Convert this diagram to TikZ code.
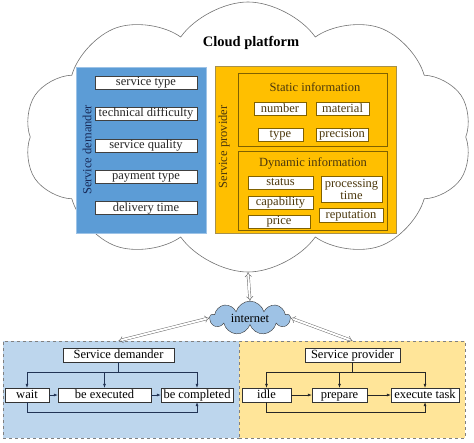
\documentclass[tikz,border=0pt]{standalone}
\usepackage{fontspec}
\setmainfont{Liberation Serif}
\usetikzlibrary{shapes, arrows}
\usetikzlibrary{arrows.meta,calc}
\usetikzlibrary{positioning}
\usetikzlibrary{shapes.symbols}

\begin{document}
\begin{tikzpicture}[x=1pt,y=-1pt,font=\fontsize{12.5}{13}\selectfont,
		    item/.style={draw=black!75,fill=white,inner sep=0pt,minimum height=13pt,text height=8.6pt,text depth=2.6pt,text=black!85},
		    gitem/.style={draw=goldline,fill=white,inner sep=0pt,minimum height=13pt,text height=8.6pt,text depth=2.6pt,text=goldtext},
		    state/.style={draw=black!80,fill=white,inner sep=0pt,minimum height=14pt,text height=8.6pt,text depth=2.6pt},
		    dbl/.style={draw=black!60,line width=0.45pt,double=white,double distance=2pt,{Implies}-{Implies}},
		    flow/.style={draw=navyline,line width=0.6pt,-{Latex[scale=0.7]}}]
		    \definecolor{demblue}{rgb}{0.36,0.61,0.84}
		    \definecolor{provgold}{rgb}{1.00,0.75,0.00}
		    \definecolor{goldline}{rgb}{0.50,0.38,0.00}
		    \definecolor{goldtext}{rgb}{0.30,0.22,0.05}
		    \definecolor{navytext}{rgb}{0.10,0.17,0.35}
		    \definecolor{navyline}{rgb}{0.13,0.20,0.33}
		    \definecolor{paleblue}{rgb}{0.74,0.84,0.93}
		    \definecolor{palegold}{rgb}{1.00,0.90,0.60}
		    \definecolor{netblue}{rgb}{0.62,0.76,0.90}
		    \useasboundingbox (0,0) rectangle (474,442);

		    % cloud platform
		    \node(platform) [cloud,cloud puffs=10,cloud puff arc=110,aspect=1.65,draw=black!55,line width=0.6pt,minimum width=448pt,minimum height=270pt,inner sep=0pt] at (248,137) {};
		    \node(title) [font=\fontsize{14.5}{15}\selectfont\bfseries] at (251,43) {Cloud platform};

		    \node(demand) [draw=demblue!60!white,fill=demblue,minimum width=130pt,minimum height=166pt] at (141,150) {};
		    \node[rotate=90,text=navytext] at (87,150) {Service demander};
		    \node(stype) [item,minimum width=102pt] at (146,82.5) {service type};
		    \node(tech) [item,minimum width=102pt,below=18pt of stype] {technical difficulty};
		    \node(quality) [item,minimum width=102pt,below=18pt of tech] {service quality};
		    \node(payment) [item,minimum width=102pt,below=18pt of quality] {payment type};
		    \node(delivery) [item,minimum width=102pt,below=18pt of payment] {delivery time};

		    \node(provide) [draw=goldline!70,fill=provgold,minimum width=181pt,minimum height=167pt] at (305.5,149.5) {};
		    \node[rotate=90,text=goldtext] at (224,147) {Service provider};
		    \node(static) [draw=goldline,fill=provgold,minimum width=149pt,minimum height=73pt] at (312.5,109.5) {};
		    \node[text=goldtext] at (315,87) {Static information};
		    \node(number) [gitem,minimum width=52pt] at (280,109) {number};
		    \node(material) [gitem,minimum width=53pt] at (342.5,109) {material};
		    \node(type) [gitem,minimum width=45pt] at (280.5,134.5) {type};
		    \node(precision) [gitem,minimum width=52pt] at (342,134.5) {precision};
		    \node(dynamic) [draw=goldline,fill=provgold,minimum width=149pt,minimum height=79pt] at (312.5,190.5) {};
		    \node[text=goldtext] at (313,163) {Dynamic information};
		    \node(status) [gitem,minimum width=65pt] at (280.5,182.5) {status};
		    \node(capability) [gitem,minimum width=65pt] at (280.5,202.5) {capability};
		    \node(price) [gitem,minimum width=62pt] at (279,221.5) {price};
		    \node(ptime) [gitem,minimum width=61pt,minimum height=26pt,text height=,text depth=,align=center,font=\fontsize{12.5}{12}\selectfont] at (351.5,189) {processing\\time};
		    \node(reputation) [gitem,minimum width=64pt,minimum height=14pt] at (351,215) {reputation};

		    % internet
		    \node(internet) [cloud,cloud puffs=9,aspect=2.6,draw=black!80,fill=netblue,minimum width=80pt,minimum height=29pt,inner sep=0pt] at (250,318) {internet};

		    % bottom panels
		    \node(dembox) [draw=black!50,dashed,fill=paleblue,minimum width=236pt,minimum height=97pt] at (121,389.5) {};
		    \node(provbox) [draw=black!50,dashed,fill=palegold,minimum width=226pt,minimum height=97pt] at (352,389.5) {};

		    \node(sdem) [state,minimum width=111pt] at (118.5,355) {Service demander};
		    \node(wait) [state,minimum width=44pt] at (27,395) {wait};
		    \node(exec) [state,minimum width=93pt] at (104.5,395) {be executed};
		    \node(comp) [state,minimum width=72pt] at (197,395) {be completed};

		    \node(sprov) [state,minimum width=95pt] at (352.5,355) {Service provider};
		    \node(idle) [state,minimum width=49pt] at (266.5,395) {idle};
		    \node(prep) [state,minimum width=55pt] at (339.5,395) {prepare};
		    \node(task) [state,minimum width=68pt] at (425,395) {execute task};

		    \draw[dbl] (platform.south) -- (internet.north);
		    \draw[dbl] (internet.west) -- (dembox.north -| sdem);
		    \draw[dbl] (internet.east) -- (provbox.north -| sprov);

		    \draw[flow] (sdem.south) -- ++(0,10) -| (wait.north);
		    \draw[flow] (sdem.south) -- ++(0,10) -| (exec.north);
		    \draw[flow] (sdem.south) -- ++(0,10) -| (comp.north);
		    \draw[flow] (wait) -- (exec);
		    \draw[flow] (exec) -- (comp);
		    \draw[flow] (wait.south) -- ++(0,10) -| (comp.south);

		    \draw[flow,draw=black!85] (sprov.south) -- ++(0,10) -| (idle.north);
		    \draw[flow,draw=black!85] (sprov.south) -- ++(0,10) -| (prep.north);
		    \draw[flow,draw=black!85] (sprov.south) -- ++(0,10) -| (task.north);
		    \draw[flow,draw=black!85] (idle) -- (prep);
		    \draw[flow,draw=black!85] (prep) -- (task);
		    \draw[flow,draw=black!85] (idle.south) -- ++(0,10) -| (task.south);
\end{tikzpicture}
\end{document}
